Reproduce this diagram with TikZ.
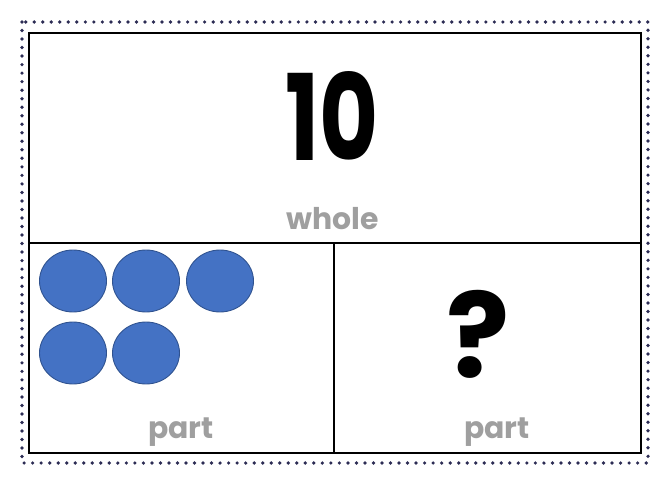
\documentclass[tikz,border=0pt]{standalone}
\usepackage{fontspec}
\newfontfamily\gothic{Poppins}
\usetikzlibrary{shapes.geometric}
\definecolor{dotnavy}{RGB}{44,44,84}
\definecolor{counter}{RGB}{68,114,196}
\definecolor{counteredge}{RGB}{47,82,143}
\tikzset{
 counter/.style={ellipse, fill=counter, draw=counteredge, line width=.5pt, minimum width=1.34cm, minimum height=1.24cm, inner sep=0},
 tag/.style={text=gray!75, font=\gothic\bfseries\fontsize{17}{17}\selectfont, inner sep=0}
}
\begin{document}
\begin{tikzpicture}[x=0.02cm, y=-0.02cm]
\useasboundingbox (0,0) rectangle (665,500);
\draw[dotnavy, line width=2.1pt, line cap=round, dash pattern=on 0pt off 4.85pt] (22,22) rectangle (648,463);
\draw[black, line width=1.6pt] (29,33) rectangle (641,453);
\coordinate (midL) at (29,243);
\coordinate (midR) at (641,243);
\coordinate (cutT) at (334,243);
\coordinate (cutB) at (334,453);
\draw[black, line width=1.1pt] (midL)--(midR) (cutT)--(cutB);
\node[font=\gothic\bfseries\fontsize{68}{68}\selectfont, inner sep=0] (total) at (332,116) {\scalebox{.76}[1]{10}};
\node[tag] (whole) at (333,219) {whole};
\foreach \x/\y [count=\i] in {73/281,146/281,220/281,73/353,146/353} {
 \node[counter] (dot\i) at (\x,\y) {};
}
\node[tag] (partA) at (181,432) {part};
\node[tag] (partB) at (497,432) {part};
\node[font=\gothic\bfseries\fontsize{67}{67}\selectfont, inner sep=0] (unknown) at (478,334) {?};
\end{tikzpicture}
\end{document}
